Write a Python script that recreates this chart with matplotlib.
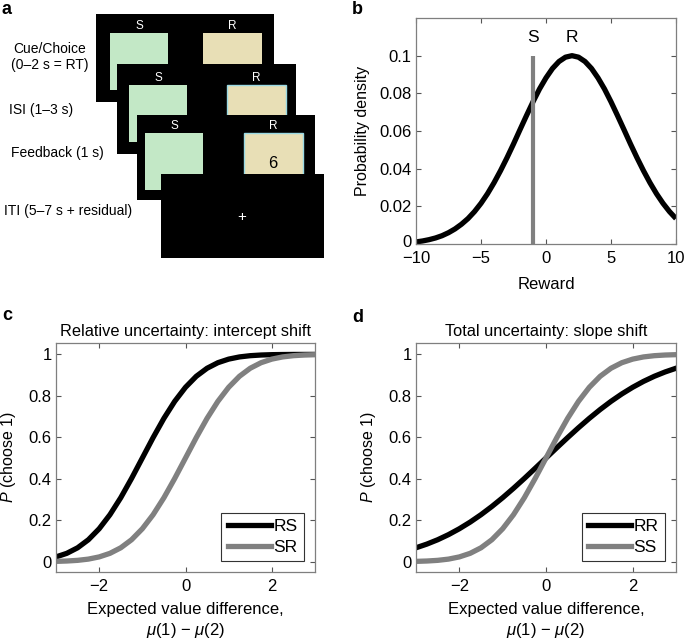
import matplotlib
matplotlib.use('Agg')
import matplotlib.pyplot as plt
import matplotlib.transforms as mtransforms
from matplotlib.patches import Rectangle

plt.rcParams['font.family'] = ['Liberation Sans', 'DejaVu Sans']
plt.rcParams['mathtext.fontset'] = 'custom'
plt.rcParams['mathtext.rm'] = 'Liberation Sans'
plt.rcParams['mathtext.it'] = 'Liberation Sans:italic'

# panel a: trial sequence
stage_labels = ['Cue/Choice\n(0\u20132 s = RT)', 'ISI (1\u20133 s)',
                'Feedback (1 s)', 'ITI (5\u20137 s + residual)']
option_labels = ['S', 'R']
feedback_value = '6'

# panel b: reward distributions
reward = [-10, -9.5, -9, -8.5, -8, -7.5, -7, -6.5, -6, -5.5, -5, -4.5, -4,
          -3.5, -3, -2.5, -2, -1.5, -1, -0.5, 0, 0.5, 1, 1.5, 2, 2.5, 3,
          3.5, 4, 4.5, 5, 5.5, 6, 6.5, 7, 7.5, 8, 8.5, 9, 9.5, 10]
density_r = [0.0011, 0.0016, 0.0023, 0.0032, 0.0044, 0.0060, 0.0080, 0.0105,
             0.0135, 0.0172, 0.0216, 0.0267, 0.0325, 0.0389, 0.0458, 0.0531,
             0.0607, 0.0682, 0.0755, 0.0823, 0.0882, 0.0932, 0.0969, 0.0992,
             0.1000, 0.0992, 0.0969, 0.0932, 0.0882, 0.0823, 0.0755, 0.0682,
             0.0607, 0.0531, 0.0458, 0.0389, 0.0325, 0.0267, 0.0216, 0.0172,
             0.0135]
safe_reward = -1
safe_height = 0.1
peak_reward = 2
marker_y = 0.1095

# panels c and d: choice curves
value_diff = [-3, -2.75, -2.5, -2.25, -2, -1.75, -1.5, -1.25, -1, -0.75, -0.5,
              -0.25, 0, 0.25, 0.5, 0.75, 1, 1.25, 1.5, 1.75, 2, 2.25, 2.5,
              2.75, 3]
p_rs = [0.0228, 0.0401, 0.0668, 0.1056, 0.1587, 0.2266, 0.3085, 0.4013, 0.5,
        0.5987, 0.6915, 0.7734, 0.8413, 0.8944, 0.9332, 0.9599, 0.9772,
        0.9878, 0.9938, 0.9970, 0.9987, 0.9994, 0.9998, 0.9999, 1.0]
p_sr = [0.0013, 0.0030, 0.0062, 0.0122, 0.0228, 0.0401, 0.0668, 0.1056,
        0.1587, 0.2266, 0.3085, 0.4013, 0.5, 0.5987, 0.6915, 0.7734, 0.8413,
        0.8944, 0.9332, 0.9599, 0.9772, 0.9878, 0.9938, 0.9970, 0.9987]
p_rr = [0.0668, 0.0846, 0.1056, 0.1303, 0.1587, 0.1908, 0.2266, 0.2660,
        0.3085, 0.3538, 0.4013, 0.4503, 0.5, 0.5497, 0.5987, 0.6462, 0.6915,
        0.7340, 0.7734, 0.8092, 0.8413, 0.8697, 0.8944, 0.9154, 0.9332]
p_ss = p_sr

GREY = '#808080'
SPINE = '#7f7f7f'
GREEN = '#c3e8c6'
TAN = '#e8dfb6'
CYAN = '#9ad9e3'
W, H = 685, 642
TICK_FS = 12
LABEL_FS = 12


def style_axes(ax):
    for s in ax.spines.values():
        s.set_color(SPINE)
        s.set_linewidth(0.9)
    ax.tick_params(direction='in', top=True, right=True, length=3.5,
                   width=0.8, color='#555555', labelsize=TICK_FS, pad=3)
    ax.tick_params(axis='x', pad=5)


def frac(x0, y0, x1, y1):
    return [x0 / W, 1 - y1 / H, (x1 - x0) / W, (y1 - y0) / H]


fig = plt.figure(figsize=(W / 100, H / 100), dpi=100)

# ---- a ----
ax_a = fig.add_axes([0, 1 - 300 / H, 345 / W, 300 / H])
ax_a.set_xlim(0, 345)
ax_a.set_ylim(300, 0)
ax_a.axis('off')

screens = [(96, 14, 178, 88), (117, 64, 179, 90), (137, 115, 178, 85),
           (161, 174, 163, 84)]
boxes = [((110, 33), (203, 33), False), ((129, 85), (227, 85), True),
         ((145, 133), (244, 133), True)]
label_pos = [(57, 'right', 88), (110, 'left', 9), (153, 'left', 11),
             (211, 'left', 4)]
z = 1
for i, (sx, sy, sw, sh) in enumerate(screens):
    ax_a.add_patch(Rectangle((sx, sy), sw, sh, facecolor='black',
                             edgecolor='none', zorder=z))
    if i < 3:
        (gx, gy), (tx, ty), chosen = boxes[i]
        ax_a.add_patch(Rectangle((gx, gy), 58, 57, facecolor=GREEN,
                                 edgecolor='none', zorder=z + 0.1))
        ax_a.add_patch(Rectangle((tx, ty), 59, 57, facecolor=TAN,
                                 edgecolor=CYAN if chosen else 'none',
                                 linewidth=1.0, zorder=z + 0.1))
        ax_a.text(gx + 29, gy - 7, option_labels[0], color='white',
                  fontsize=8.5, ha='center', va='center', zorder=z + 0.2)
        ax_a.text(tx + 29, ty - 7, option_labels[1], color='white',
                  fontsize=8.5, ha='center', va='center', zorder=z + 0.2)
        if i == 2:
            ax_a.text(tx + 29, ty + 30, feedback_value, color='black',
                      fontsize=12, ha='center', va='center', zorder=z + 0.2)
    else:
        ax_a.text(sx + 81, sy + 43, '+', color='white', fontsize=11,
                  ha='center', va='center', zorder=z + 0.2)
    z += 1
    ly, ha, lx = label_pos[i]
    ax_a.text(lx, ly, stage_labels[i], fontsize=10, ha=ha, va='center',
              multialignment='center', linespacing=1.25)

# ---- b ----
ax_b = fig.add_axes(frac(416, 18, 676, 244))
ax_b.plot(reward, density_r, color='black', lw=3.8, solid_capstyle='butt')
ax_b.plot([safe_reward, safe_reward], [0, safe_height], color=GREY, lw=3.0,
          solid_capstyle='butt')
ax_b.text(safe_reward, marker_y, 'S', fontsize=12.5, ha='center', va='center')
ax_b.text(peak_reward, marker_y, 'R', fontsize=12.5, ha='center', va='center')
ax_b.set_xlim(-10, 10)
ax_b.set_ylim(0, 0.12)
ax_b.set_xticks([-10, -5, 0, 5, 10])
ax_b.set_yticks([0, 0.02, 0.04, 0.06, 0.08, 0.1])
ax_b.set_yticklabels(['0', '0.02', '0.04', '0.06', '0.08', '0.1'])
ax_b.set_xlabel('Reward', fontsize=LABEL_FS, labelpad=8)
ax_b.set_ylabel('Probability density', fontsize=11.5, labelpad=7)
style_axes(ax_b)
# nudge the corner "0" up a little so it clears the "-10"
zero_lab = ax_b.get_yticklabels()[0]
zero_lab.set_transform(zero_lab.get_transform() + mtransforms.ScaledTranslation(
    0, 2.5 / 72, fig.dpi_scale_trans))

# ---- c, d ----
panels = [
    (frac(56, 343, 315, 572), 'Relative uncertainty: intercept shift',
     p_rs, 'RS', p_sr, 'SR'),
    (frac(416, 343, 676, 572), 'Total uncertainty: slope shift',
     p_rr, 'RR', p_ss, 'SS'),
]
for rect, title, p_black, lab_black, p_grey, lab_grey in panels:
    ax = fig.add_axes(rect)
    ax.plot(value_diff, p_black, color='black', lw=3.8, label=lab_black)
    ax.plot(value_diff, p_grey, color=GREY, lw=3.8, label=lab_grey)
    ax.set_xlim(-3, 3)
    ax.set_ylim(-0.05, 1.055)
    ax.set_xticks([-2, 0, 2])
    ax.set_yticks([0, 0.2, 0.4, 0.6, 0.8, 1])
    ax.set_yticklabels(['0', '0.2', '0.4', '0.6', '0.8', '1'])
    ax.set_title(title, fontsize=11.8, pad=5)
    ax.set_xlabel('Expected value difference,\n$\\mu$(1) $-$ $\\mu$(2)',
                  fontsize=LABEL_FS, labelpad=6, linespacing=1.3)
    ax.set_ylabel('$P$ (choose 1)', fontsize=11.5, labelpad=8)
    leg = ax.legend(loc='lower right', fontsize=12.5, handlelength=2.5,
                    handletextpad=0.15, borderpad=0.35, labelspacing=0.3,
                    borderaxespad=0.65, fancybox=False, framealpha=1,
                    edgecolor='#333333')
    leg.get_frame().set_linewidth(0.8)
    style_axes(ax)

for lab, x, y in [('a', 1, 10), ('b', 352, 10), ('c', 2, 315), ('d', 352, 318)]:
    fig.text(x / W, 1 - y / H, lab, fontsize=13, fontweight='bold',
             ha='left', va='center')

fig.savefig('out.png', dpi=100)
